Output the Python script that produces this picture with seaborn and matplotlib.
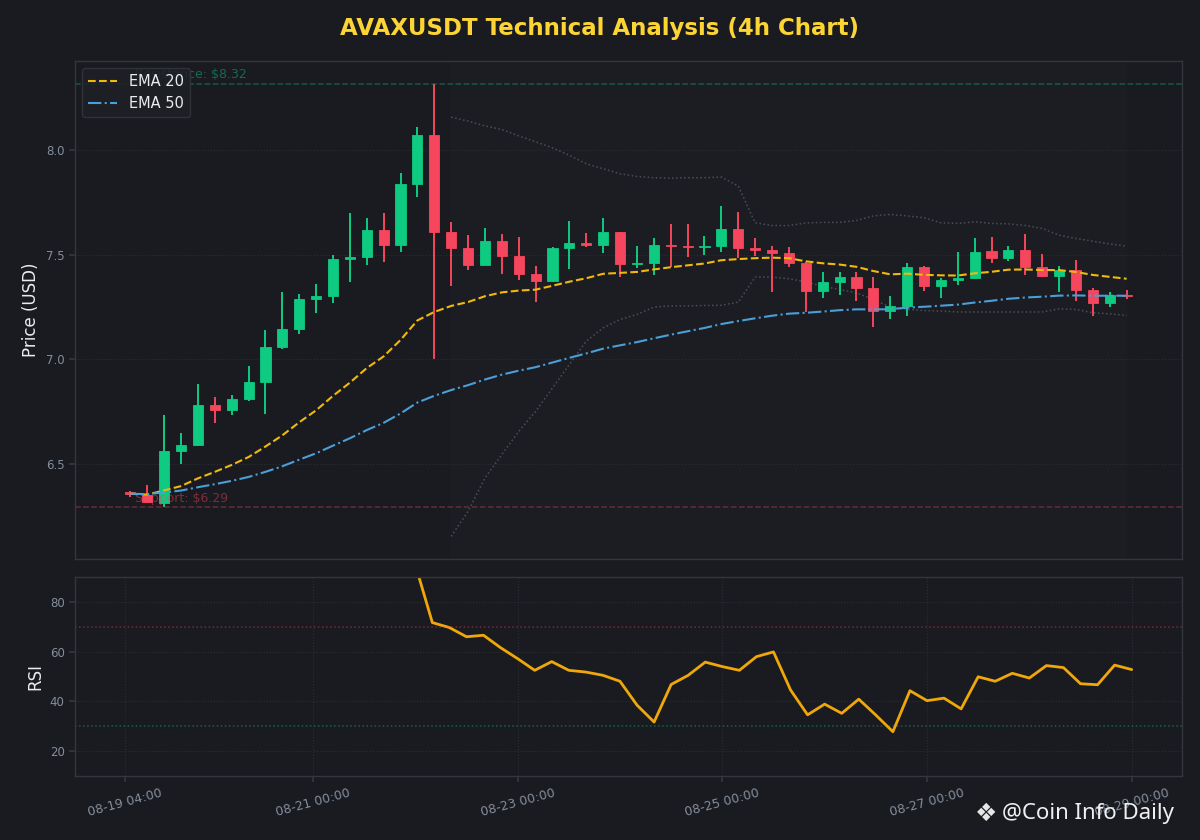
import numpy as np
import pandas as pd
import seaborn as sns
import matplotlib
matplotlib.use("Agg")
import matplotlib.pyplot as plt
import matplotlib.dates as mdates

# 4h candles from 08-19 04:00 to 08-29 00:00
dates = pd.date_range("2025-08-19 04:00", periods=60, freq="4h")

opens = [6.365, 6.35, 6.31, 6.56, 6.59, 6.78, 6.755, 6.81, 6.89, 7.06,
         7.145, 7.29, 7.30, 7.48, 7.49, 7.62, 7.545, 7.84, 8.075, 7.61,
         7.53, 7.45, 7.565, 7.495, 7.41, 7.375, 7.53, 7.555, 7.545, 7.61,
         7.455, 7.46, 7.545, 7.54, 7.535, 7.54, 7.625, 7.53, 7.525, 7.51,
         7.46, 7.325, 7.37, 7.395, 7.34, 7.23, 7.255, 7.44, 7.35, 7.38,
         7.39, 7.52, 7.485, 7.525, 7.44, 7.40, 7.425, 7.33, 7.27, 7.305]
highs = [6.37, 6.395, 6.73, 6.645, 6.88, 6.82, 6.83, 6.965, 7.14, 7.32,
         7.31, 7.36, 7.50, 7.70, 7.675, 7.70, 7.89, 8.11, 8.32, 7.655,
         7.595, 7.63, 7.60, 7.585, 7.445, 7.535, 7.66, 7.605, 7.675, 7.61,
         7.54, 7.58, 7.645, 7.645, 7.59, 7.735, 7.705, 7.58, 7.54, 7.535,
         7.465, 7.415, 7.415, 7.415, 7.395, 7.30, 7.46, 7.445, 7.39, 7.515,
         7.58, 7.585, 7.54, 7.60, 7.505, 7.445, 7.475, 7.34, 7.32, 7.33]
lows = [6.34, 6.31, 6.29, 6.50, 6.585, 6.695, 6.73, 6.80, 6.735, 7.05,
        7.12, 7.22, 7.27, 7.37, 7.45, 7.465, 7.515, 7.775, 7.00, 7.35,
        7.425, 7.45, 7.41, 7.38, 7.275, 7.37, 7.43, 7.535, 7.51, 7.395,
        7.435, 7.405, 7.44, 7.49, 7.50, 7.515, 7.485, 7.495, 7.32, 7.44,
        7.225, 7.295, 7.305, 7.28, 7.155, 7.19, 7.205, 7.325, 7.295, 7.355,
        7.385, 7.46, 7.47, 7.405, 7.395, 7.32, 7.28, 7.205, 7.25, 7.29]
closes = [6.355, 6.315, 6.56, 6.59, 6.78, 6.755, 6.81, 6.89, 7.06, 7.145,
          7.29, 7.30, 7.48, 7.49, 7.62, 7.545, 7.84, 8.075, 7.61, 7.53,
          7.45, 7.565, 7.495, 7.41, 7.375, 7.53, 7.555, 7.545, 7.61, 7.455,
          7.46, 7.545, 7.54, 7.535, 7.54, 7.625, 7.53, 7.525, 7.51, 7.46,
          7.325, 7.37, 7.395, 7.34, 7.23, 7.255, 7.44, 7.35, 7.38, 7.39,
          7.515, 7.485, 7.525, 7.44, 7.40, 7.425, 7.33, 7.27, 7.305, 7.30]

ema20 = [6.3550, 6.3512, 6.3711, 6.3919, 6.4289, 6.4600, 6.4933, 6.5311, 6.5815, 6.6351,
         6.6975, 6.7549, 6.8240, 6.8874, 6.9572, 7.0132, 7.0919, 7.1855, 7.2260, 7.2549,
         7.2735, 7.3013, 7.3197, 7.3283, 7.3328, 7.3515, 7.3709, 7.3875, 7.4087, 7.4131,
         7.4176, 7.4297, 7.4402, 7.4492, 7.4579, 7.4738, 7.4791, 7.4835, 7.4860, 7.4835,
         7.4684, 7.4591, 7.4530, 7.4422, 7.4220, 7.4061, 7.4093, 7.4037, 7.4014, 7.4003,
         7.4112, 7.4183, 7.4284, 7.4295, 7.4267, 7.4266, 7.4174, 7.4033, 7.3940, 7.3850]
ema50 = [6.3550, 6.3534, 6.3615, 6.3705, 6.3865, 6.4010, 6.4170, 6.4356, 6.4601, 6.4869,
         6.5184, 6.5491, 6.5856, 6.6210, 6.6602, 6.6949, 6.7398, 6.7922, 6.8243, 6.8519,
         6.8754, 6.9024, 6.9257, 6.9447, 6.9615, 6.9838, 7.0062, 7.0273, 7.0502, 7.0661,
         7.0815, 7.0997, 7.1170, 7.1334, 7.1493, 7.1680, 7.1822, 7.1956, 7.2079, 7.2178,
         7.2220, 7.2278, 7.2344, 7.2385, 7.2382, 7.2388, 7.2467, 7.2508, 7.2558, 7.2611,
         7.2711, 7.2795, 7.2891, 7.2950, 7.2991, 7.3041, 7.3051, 7.3037, 7.3038, 7.3036]

# bollinger bands start at the 20th candle
bb_upper = [np.nan] * 19 + [
    8.159, 8.14, 8.117, 8.10, 8.069, 8.041, 8.012, 7.976, 7.936, 7.912,
    7.888, 7.875, 7.869, 7.867, 7.869, 7.869, 7.872, 7.829, 7.653, 7.64,
    7.64, 7.652, 7.655, 7.655, 7.664, 7.686, 7.693, 7.686, 7.677, 7.653,
    7.65, 7.658, 7.65, 7.648, 7.64, 7.626, 7.594, 7.578, 7.565, 7.552, 7.541]
bb_lower = [np.nan] * 19 + [
    6.151, 6.271, 6.431, 6.543, 6.654, 6.75, 6.862, 6.974, 7.086, 7.15,
    7.19, 7.214, 7.249, 7.255, 7.255, 7.257, 7.258, 7.273, 7.393, 7.393,
    7.385, 7.37, 7.349, 7.334, 7.317, 7.286, 7.249, 7.238, 7.233, 7.23,
    7.226, 7.226, 7.226, 7.226, 7.226, 7.226, 7.241, 7.238, 7.222, 7.217, 7.209]

rsi = [np.nan] * 14 + [
    93.5, 91.0, 94.0, 95.0, 71.7, 69.7, 66.0, 66.6, 61.6, 57.2,
    52.5, 56.0, 52.5, 51.8, 50.5, 48.1, 38.5, 31.7, 46.8, 50.5,
    55.8, 54.0, 52.5, 58.0, 59.9, 44.6, 34.6, 38.9, 35.2, 40.9,
    34.5, 27.8, 44.3, 40.3, 41.3, 37.0, 49.9, 48.1, 51.3, 49.4,
    54.4, 53.6, 47.1, 46.7, 54.6, 52.8]

resistance = 8.32
support = 6.29
tick_idx = [0, 11, 23, 35, 47, 59]

bg = "#1a1b20"
grid_c = "#2b2e35"
txt_c = "#848e9c"
up_c = "#0ecb81"
down_c = "#f6465d"

sns.set_theme(style="dark", rc={
    "figure.facecolor": bg, "axes.facecolor": bg, "axes.edgecolor": "#33363d",
    "axes.labelcolor": "#eaecef", "xtick.color": txt_c, "ytick.color": txt_c,
    "text.color": "#eaecef", "xtick.bottom": True, "ytick.left": True,
})
plt.rcParams["font.family"] = ["DejaVu Sans"]

x = mdates.date2num(dates)
step = x[1] - x[0]
o = np.array(opens)
c = np.array(closes)
colors = np.where(c >= o, up_c, down_c)

fig = plt.figure(figsize=(12, 8.4), dpi=100)
ax1 = fig.add_axes([0.0625, 0.3345, 0.9225, 0.593])
ax2 = fig.add_axes([0.0625, 0.0762, 0.9225, 0.2368])

# price panel
ax1.axvspan(x[19], x[59], color="white", alpha=0.01, lw=0, zorder=0)
ax1.vlines(x, lows, highs, colors=colors, linewidth=1.4, zorder=2)
ax1.bar(x, np.abs(c - o), width=step * 0.6, bottom=np.minimum(o, c),
        color=colors, edgecolor=colors, linewidth=0.6, zorder=3)

sns.lineplot(x=x, y=ema20, ax=ax1, color="#f0b90b", linestyle="--", linewidth=1.5,
             label="EMA 20", zorder=4)
sns.lineplot(x=x, y=ema50, ax=ax1, color="#4a9fd8", linestyle="-.", linewidth=1.5,
             label="EMA 50", zorder=4)
sns.lineplot(x=x, y=bb_upper, ax=ax1, color="#5e6370", linestyle=":", linewidth=1.1,
             alpha=0.7, zorder=1)
sns.lineplot(x=x, y=bb_lower, ax=ax1, color="#5e6370", linestyle=":", linewidth=1.1,
             alpha=0.7, zorder=1)

ax1.axhline(resistance, color=up_c, linestyle="--", linewidth=1.1, alpha=0.35)
ax1.axhline(support, color=down_c, linestyle="--", linewidth=1.1, alpha=0.35)
ax1.text(x[0] + step * 0.25, resistance + 0.01, f"Resistance: ${resistance:.2f}",
         color=up_c, alpha=0.45, fontsize=9, va="bottom")
ax1.text(x[0] + step * 0.25, support + 0.01, f"Support: ${support:.2f}",
         color=down_c, alpha=0.45, fontsize=9, va="bottom")

ax1.set_yticks([6.5, 7.0, 7.5, 8.0])
ax1.set_yticklabels([f"{v:.1f}" for v in [6.5, 7.0, 7.5, 8.0]])
ax1.set_xticks([])
ax1.tick_params(axis="y", labelsize=8.5, length=4, color="#33363d")
ax1.set_ylabel("Price (USD)", fontsize=12)
ax1.grid(axis="y", color=grid_c, linestyle=":", linewidth=0.8)

leg = ax1.legend(loc="upper left", fontsize=10.5, facecolor="#1e2026",
                 edgecolor="#33363d", framealpha=0.85)
for t in leg.get_texts():
    t.set_color("#eaecef")

# RSI panel
sns.lineplot(x=x, y=rsi, ax=ax2, color="#f0a70a", linewidth=2)
ax2.axhline(70, color=down_c, linestyle=":", linewidth=1.1, alpha=0.4)
ax2.axhline(30, color=up_c, linestyle=":", linewidth=1.1, alpha=0.4)
ax2.set_ylim(10, 90)
span = x[-1] - x[0]
ax2.set_xlim(x[0] - 0.05 * span, x[-1] + 0.05 * span)
ax2.set_yticks([20, 40, 60, 80])
ax2.set_xticks(x[tick_idx])
ax2.set_xticklabels([dates[i].strftime("%m-%d %H:%M") for i in tick_idx],
                    rotation=15, ha="center")
ax2.tick_params(axis="x", labelsize=9, length=4, color="#33363d")
ax2.tick_params(axis="y", labelsize=8.5, length=4, color="#33363d")
ax2.set_ylabel("RSI", fontsize=12)
ax2.grid(True, color=grid_c, linestyle=":", linewidth=0.8)

for ax in (ax1, ax2):
    for s in ax.spines.values():
        s.set_color("#33363d")
        s.set_linewidth(1)

fig.text(0.5, 1 - 28 / 840, "AVAXUSDT Technical Analysis (4h Chart)", ha="center",
         va="center", fontsize=16.5, fontweight="bold", color="#fcd535")

# watermark
fig.text(0.8125, 1 - 814 / 840, "❖", ha="left", va="center", fontsize=18,
         color="#e6e6e6")
fig.text(0.835, 1 - 814 / 840, "@Coin Info Daily", ha="left", va="center",
         fontsize=16, color="#f0f0f0", family=["Noto Sans", "DejaVu Sans"])

fig.savefig("out.png", dpi=100, facecolor=bg)
